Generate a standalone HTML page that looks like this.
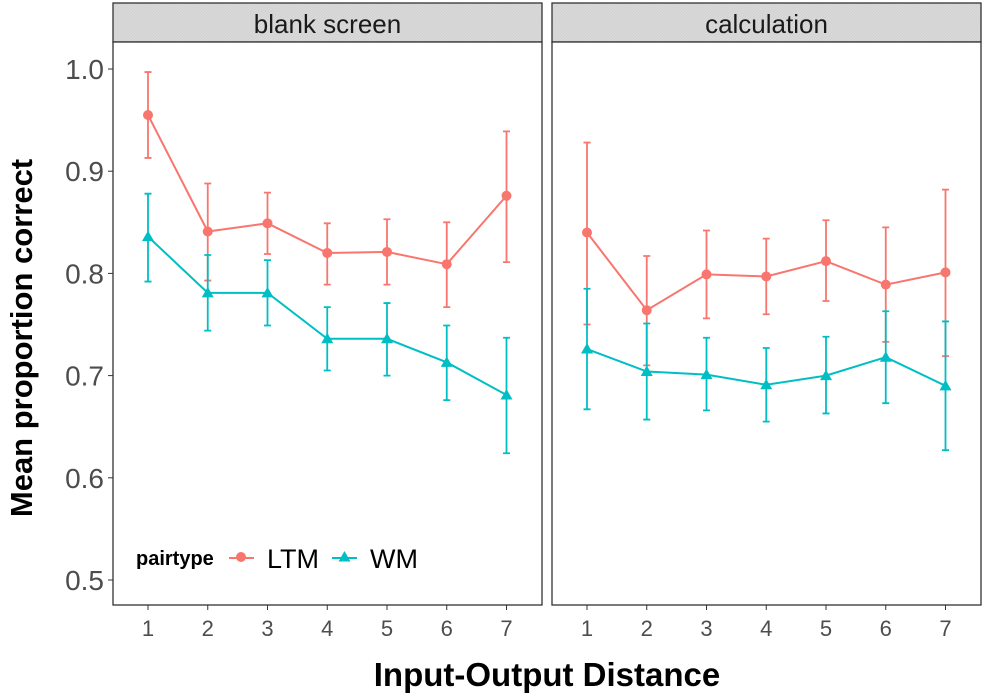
<!DOCTYPE html>
<html><head><meta charset="utf-8"><style>
body{margin:0;background:#fff;}
svg text{font-family:"Liberation Sans",sans-serif;}
</style></head><body>
<svg id="chart" width="986" height="695" xmlns="http://www.w3.org/2000/svg">
<defs><pattern id="hatch" width="3" height="3" patternUnits="userSpaceOnUse"><rect width="3" height="3" fill="#d9d9d9"/><path d="M0,3 L3,0" stroke="#cfcfcf" stroke-width="0.6"/></pattern></defs>
<g id="g"></g>
</svg>
<script>
const xCats=[1,2,3,4,5,6,7];
const yTicks=[0.5,0.6,0.7,0.8,0.9,1.0];
const yTickLabels=["0.5","0.6","0.7","0.8","0.9","1.0"];
const panels=["blank screen","calculation"];
const ltmBlank=[0.955,0.841,0.849,0.820,0.821,0.809,0.876];
const ltmBlankHi=[0.997,0.888,0.879,0.849,0.853,0.850,0.939];
const ltmBlankLo=[0.913,0.793,0.819,0.789,0.789,0.767,0.811];
const wmBlank=[0.836,0.781,0.781,0.736,0.736,0.713,0.681];
const wmBlankHi=[0.878,0.818,0.813,0.767,0.771,0.749,0.737];
const wmBlankLo=[0.792,0.744,0.749,0.705,0.700,0.676,0.624];
const ltmCalc=[0.840,0.764,0.799,0.797,0.812,0.789,0.801];
const ltmCalcHi=[0.928,0.817,0.842,0.834,0.852,0.845,0.882];
const ltmCalcLo=[0.750,0.710,0.756,0.760,0.773,0.733,0.719];
const wmCalc=[0.726,0.704,0.701,0.691,0.700,0.718,0.690];
const wmCalcHi=[0.785,0.751,0.737,0.727,0.738,0.763,0.753];
const wmCalcLo=[0.667,0.657,0.666,0.655,0.663,0.673,0.627];

const NS="http://www.w3.org/2000/svg";
const G=document.getElementById('g');
function mk(t,a,p){const e=document.createElementNS(NS,t);for(const k in a)e.setAttribute(k,a[k]);(p||G).appendChild(e);return e;}
const panelX=[113,552], PW=429, plotTop=42, plotBot=605, stripTop=3;
const y=v=>69+(1.0-v)*1022;
const xf=(p,c)=>panelX[p]+35+(c-1)*59.75;
const RED="#F8766D", TEAL="#00BFC4";

yTicks.forEach((t,i)=>{
  const l=mk('line',{x1:108,x2:113,y1:y(t),y2:y(t),stroke:'#333','stroke-width':1});
  
  
  const tx=mk('text',{x:104,y:y(t)+10,'text-anchor':'end','font-size':28,fill:'#4d4d4d'});
  tx.textContent=yTickLabels[i];
  
  
});

const series=[[ltmBlank,ltmBlankHi,ltmBlankLo,wmBlank,wmBlankHi,wmBlankLo],[ltmCalc,ltmCalcHi,ltmCalcLo,wmCalc,wmCalcHi,wmCalcLo]];
panels.forEach((name,p)=>{
  const px=panelX[p];
  const s=mk('rect',{x:px,y:stripTop,width:PW,height:plotTop-stripTop,fill:'url(#hatch)',stroke:'#333','stroke-width':1.3});
  
  
  const st=mk('text',{x:px+PW/2,y:33,'text-anchor':'middle','font-size':26,fill:'#1a1a1a'});
  st.textContent=name;
  
  
  const r=mk('rect',{x:px,y:plotTop,width:PW,height:plotBot-plotTop,fill:'#fff',stroke:'#333','stroke-width':1.3});
  
  
  xCats.forEach(c=>{
    const l=mk('line',{x1:xf(p,c),x2:xf(p,c),y1:plotBot,y2:plotBot+5,stroke:'#333'});
    
    
    const t=mk('text',{x:xf(p,c),y:plotBot+31,'text-anchor':'middle','font-size':22,fill:'#4d4d4d'});
    t.textContent=c;
    
    
  });
  const d=series[p];
  [[d[0],d[1],d[2],RED,'ltm'],[d[3],d[4],d[5],TEAL,'wm']].forEach(([v,hi,lo,col,nm])=>{
    const pl=mk('polyline',{points:xCats.map((c,i)=>xf(p,c)+','+y(v[i])).join(' '),fill:'none',stroke:col,'stroke-width':2});
    
    
    xCats.forEach((c,i)=>{
      const X=xf(p,c);
      const e=mk('path',{d:`M${X-3.5},${y(hi[i])}H${X+3.5}M${X},${y(hi[i])}V${y(lo[i])}M${X-3.5},${y(lo[i])}H${X+3.5}`,stroke:col,'stroke-width':1.8,fill:'none'});
      
      
      let m;
      if(nm==='ltm') m=mk('circle',{cx:X,cy:y(v[i]),r:5,fill:col});
      else {const Y=y(v[i]);m=mk('path',{d:`M${X},${Y-6}L${X+6},${Y+4.5}L${X-6},${Y+4.5}Z`,fill:col});}
      
      
    });
  });
});
</script>
<div style="position:absolute;left:0;top:0;width:986px;height:695px;pointer-events:none;">
<svg width="986" height="695" xmlns="http://www.w3.org/2000/svg">
<text x="32" y="338" transform="rotate(-90 32 338)" text-anchor="middle" font-size="31" font-weight="bold" font-family="Liberation Sans,sans-serif" fill="#000">Mean proportion correct</text>
<text x="547" y="686" text-anchor="middle" font-size="33" font-weight="bold" font-family="Liberation Sans,sans-serif" fill="#000">Input-Output Distance</text>
<g>
<text x="136" y="565" font-size="20" font-weight="bold" font-family="Liberation Sans,sans-serif" fill="#000">pairtype</text>
<g><line x1="229" x2="254" y1="558" y2="558" stroke="#F8766D" stroke-width="2"/><circle cx="241" cy="557" r="5" fill="#F8766D"/><text x="267" y="568" font-size="27" font-family="Liberation Sans,sans-serif" fill="#000">LTM</text></g>
<g><line x1="332" x2="357" y1="558" y2="558" stroke="#00BFC4" stroke-width="2"/><path d="M344.5,551L350.5,561.5L338.5,561.5Z" fill="#00BFC4"/><text x="370" y="568" font-size="27" font-family="Liberation Sans,sans-serif" fill="#000">WM</text></g>
</g>
</svg></div>
</body></html>
